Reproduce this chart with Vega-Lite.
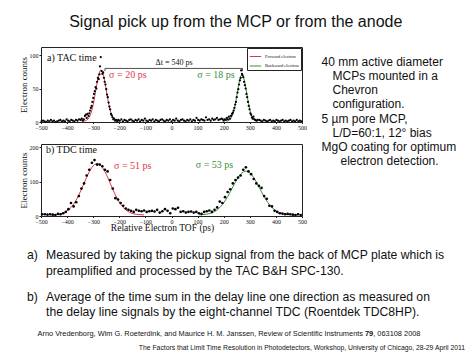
{
"$schema": "https://vega.github.io/schema/vega-lite/v6.json",
"padding": {"left": 18, "top": 13, "right": 0, "bottom": 0},
"background": "white",
"title": {"text": "Signal pick up from the MCP or from the anode", "font": "Liberation Sans", "fontSize": 16, "fontWeight": "normal", "color": "#111", "anchor": "middle", "dx": -6, "offset": 17},
"config": {
  "view": {"stroke": "#222", "strokeWidth": 1},
  "axis": {"grid": false, "domain": false, "ticks": true, "tickColor": "#222", "labelColor": "#111", "titleColor": "#111", "labelFont": "Liberation Serif", "titleFont": "Liberation Serif", "titleFontWeight": "normal"},
  "text": {"font": "Liberation Serif"}
},
"datasets": {
  "tac": [
    {"x":-498,"y":1},{"x":-492,"y":2},{"x":-486,"y":1},{"x":-480,"y":0},{"x":-474,"y":2},{"x":-468,"y":1},{"x":-462,"y":3},{"x":-456,"y":1},{"x":-450,"y":2},{"x":-444,"y":0},{"x":-438,"y":1},{"x":-432,"y":2},{"x":-426,"y":3},{"x":-420,"y":1},{"x":-414,"y":2},{"x":-408,"y":1},{"x":-402,"y":4},{"x":-396,"y":2},{"x":-390,"y":1},{"x":-384,"y":3},{"x":-378,"y":2},{"x":-372,"y":1},{"x":-366,"y":3},{"x":-360,"y":2},{"x":-354,"y":4},{"x":-348,"y":3},{"x":-344,"y":5},
    {"x":-340,"y":2},{"x":-336,"y":4},{"x":-332,"y":9},{"x":-328,"y":11},{"x":-325,"y":6},{"x":-322,"y":12},{"x":-318,"y":9},{"x":-315,"y":13},{"x":-312,"y":17},{"x":-309,"y":21},{"x":-306,"y":24},{"x":-303,"y":30},{"x":-300,"y":36},{"x":-297,"y":42},{"x":-294,"y":46},{"x":-291,"y":52},{"x":-288,"y":50},{"x":-285,"y":60},{"x":-282,"y":66},{"x":-279,"y":64},{"x":-276,"y":71},{"x":-274,"y":83},{"x":-271,"y":97},{"x":-268,"y":76},{"x":-265,"y":72},{"x":-262,"y":74},{"x":-259,"y":66},{"x":-256,"y":60},{"x":-253,"y":56},{"x":-250,"y":49},{"x":-247,"y":41},{"x":-244,"y":37},{"x":-241,"y":29},{"x":-238,"y":23},{"x":-235,"y":19},{"x":-232,"y":12},{"x":-229,"y":10},{"x":-226,"y":7},{"x":-223,"y":4},{"x":-220,"y":5},{"x":-216,"y":2},{"x":-212,"y":3},{"x":-208,"y":1},
    {"x":-204,"y":3},{"x":-198,"y":2},{"x":-192,"y":4},{"x":-186,"y":1},{"x":-180,"y":3},{"x":-174,"y":2},{"x":-168,"y":1},{"x":-162,"y":3},{"x":-156,"y":4},{"x":-150,"y":2},{"x":-144,"y":1},{"x":-138,"y":3},{"x":-132,"y":2},{"x":-126,"y":4},{"x":-120,"y":1},{"x":-114,"y":3},{"x":-108,"y":2},{"x":-102,"y":5},{"x":-96,"y":2},{"x":-90,"y":1},{"x":-84,"y":3},{"x":-78,"y":2},{"x":-72,"y":4},{"x":-66,"y":1},{"x":-60,"y":3},{"x":-54,"y":2},{"x":-48,"y":1},{"x":-42,"y":3},{"x":-36,"y":4},{"x":-30,"y":2},{"x":-24,"y":1},{"x":-18,"y":3},{"x":-12,"y":2},{"x":-6,"y":4},{"x":0,"y":1},{"x":6,"y":3},{"x":12,"y":2},{"x":18,"y":5},{"x":24,"y":2},{"x":30,"y":1},{"x":36,"y":3},{"x":42,"y":4},{"x":48,"y":2},{"x":54,"y":1},{"x":60,"y":3},{"x":66,"y":2},{"x":72,"y":4},{"x":78,"y":1},{"x":84,"y":3},{"x":90,"y":2},{"x":96,"y":6},{"x":102,"y":3},{"x":108,"y":2},{"x":114,"y":4},{"x":120,"y":3},{"x":126,"y":2},{"x":132,"y":7},{"x":138,"y":3},{"x":144,"y":4},{"x":150,"y":2},{"x":156,"y":5},{"x":162,"y":3},{"x":168,"y":4},{"x":174,"y":6},{"x":180,"y":3},{"x":186,"y":4},{"x":192,"y":5},{"x":196,"y":4},
    {"x":200,"y":2},{"x":204,"y":4},{"x":208,"y":3},{"x":212,"y":6},{"x":216,"y":4},{"x":220,"y":8},{"x":224,"y":5},{"x":228,"y":9},{"x":232,"y":12},{"x":235,"y":14},{"x":238,"y":17},{"x":241,"y":21},{"x":244,"y":26},{"x":247,"y":30},{"x":250,"y":37},{"x":253,"y":44},{"x":256,"y":49},{"x":259,"y":56},{"x":262,"y":62},{"x":265,"y":66},{"x":267,"y":77},{"x":270,"y":72},{"x":272,"y":70},{"x":275,"y":67},{"x":278,"y":60},{"x":281,"y":55},{"x":284,"y":50},{"x":287,"y":42},{"x":290,"y":37},{"x":293,"y":30},{"x":296,"y":24},{"x":299,"y":19},{"x":302,"y":13},{"x":305,"y":11},{"x":308,"y":7},{"x":311,"y":5},{"x":314,"y":8},{"x":317,"y":4},{"x":321,"y":3},{"x":325,"y":2},{"x":330,"y":3},
    {"x":336,"y":3},{"x":342,"y":2},{"x":348,"y":1},{"x":354,"y":3},{"x":360,"y":2},{"x":366,"y":1},{"x":372,"y":2},{"x":378,"y":3},{"x":384,"y":1},{"x":390,"y":2},{"x":396,"y":1},{"x":402,"y":3},{"x":408,"y":2},{"x":414,"y":1},{"x":420,"y":2},{"x":426,"y":3},{"x":432,"y":1},{"x":438,"y":2},{"x":444,"y":1},{"x":450,"y":2},{"x":456,"y":3},{"x":462,"y":1},{"x":468,"y":2},{"x":474,"y":1},{"x":480,"y":3},{"x":486,"y":1},{"x":492,"y":2},{"x":498,"y":1}
  ],
  "tacfit": [
    {"x":-340,"y":1.2,"series":"Forward electron"},{"x":-330,"y":1.9,"series":"Forward electron"},{"x":-325,"y":2.8,"series":"Forward electron"},{"x":-320,"y":4.4,"series":"Forward electron"},{"x":-315,"y":7.1,"series":"Forward electron"},{"x":-310,"y":11.4,"series":"Forward electron"},{"x":-305,"y":17.7,"series":"Forward electron"},{"x":-300,"y":26.0,"series":"Forward electron"},{"x":-295,"y":36.3,"series":"Forward electron"},{"x":-290,"y":47.7,"series":"Forward electron"},{"x":-285,"y":59.1,"series":"Forward electron"},{"x":-280,"y":69.0,"series":"Forward electron"},{"x":-275,"y":75.6,"series":"Forward electron"},{"x":-270,"y":78,"series":"Forward electron"},{"x":-265,"y":75.6,"series":"Forward electron"},{"x":-260,"y":69.0,"series":"Forward electron"},{"x":-255,"y":59.1,"series":"Forward electron"},{"x":-250,"y":47.7,"series":"Forward electron"},{"x":-245,"y":36.3,"series":"Forward electron"},{"x":-240,"y":26.0,"series":"Forward electron"},{"x":-235,"y":17.7,"series":"Forward electron"},{"x":-230,"y":11.4,"series":"Forward electron"},{"x":-225,"y":7.1,"series":"Forward electron"},{"x":-220,"y":4.4,"series":"Forward electron"},{"x":-215,"y":2.8,"series":"Forward electron"},{"x":-210,"y":1.9,"series":"Forward electron"},{"x":-200,"y":1.2,"series":"Forward electron"},
    {"x":210,"y":1.3,"series":"Backward electron"},{"x":215,"y":1.7,"series":"Backward electron"},{"x":220,"y":2.5,"series":"Backward electron"},{"x":225,"y":4.1,"series":"Backward electron"},{"x":230,"y":6.9,"series":"Backward electron"},{"x":235,"y":11.6,"series":"Backward electron"},{"x":240,"y":18.4,"series":"Backward electron"},{"x":245,"y":27.7,"series":"Backward electron"},{"x":250,"y":38.7,"series":"Backward electron"},{"x":255,"y":50.5,"series":"Backward electron"},{"x":260,"y":61.0,"series":"Backward electron"},{"x":265,"y":68.3,"series":"Backward electron"},{"x":270,"y":71,"series":"Backward electron"},{"x":275,"y":68.3,"series":"Backward electron"},{"x":280,"y":61.0,"series":"Backward electron"},{"x":285,"y":50.5,"series":"Backward electron"},{"x":290,"y":38.7,"series":"Backward electron"},{"x":295,"y":27.7,"series":"Backward electron"},{"x":300,"y":18.4,"series":"Backward electron"},{"x":305,"y":11.6,"series":"Backward electron"},{"x":310,"y":6.9,"series":"Backward electron"},{"x":315,"y":4.1,"series":"Backward electron"},{"x":320,"y":2.5,"series":"Backward electron"},{"x":325,"y":1.7,"series":"Backward electron"},{"x":330,"y":1.3,"series":"Backward electron"}
  ],
  "tdc": [
    {"x":-495,"y":5},{"x":-485,"y":5},{"x":-475,"y":4},{"x":-465,"y":5},{"x":-455,"y":4},{"x":-445,"y":3},{"x":-435,"y":6},{"x":-425,"y":5},{"x":-415,"y":8},{"x":-405,"y":12},{"x":-395,"y":20},{"x":-385,"y":38},{"x":-375,"y":28},{"x":-365,"y":40},{"x":-355,"y":58},{"x":-345,"y":80},{"x":-335,"y":95},{"x":-325,"y":118},{"x":-315,"y":135},{"x":-305,"y":155},{"x":-295,"y":163},{"x":-285,"y":150},{"x":-275,"y":150},{"x":-265,"y":145},{"x":-255,"y":135},{"x":-245,"y":130},{"x":-235,"y":105},{"x":-225,"y":80},{"x":-215,"y":52},{"x":-205,"y":48},{"x":-195,"y":38},{"x":-185,"y":30},{"x":-175,"y":22},{"x":-165,"y":18},{"x":-155,"y":15},{"x":-145,"y":12},{"x":-135,"y":18},{"x":-125,"y":15},{"x":-115,"y":14},{"x":-105,"y":16},{"x":-95,"y":12},{"x":-85,"y":14},{"x":-75,"y":15},{"x":-65,"y":13},{"x":-55,"y":18},{"x":-45,"y":10},{"x":-35,"y":14},{"x":-25,"y":20},{"x":-15,"y":15},{"x":-5,"y":8},{"x":5,"y":22},{"x":15,"y":20},{"x":25,"y":24},{"x":35,"y":12},{"x":45,"y":14},{"x":55,"y":10},{"x":65,"y":12},{"x":75,"y":13},{"x":85,"y":10},{"x":95,"y":12},{"x":105,"y":8},{"x":115,"y":6},{"x":125,"y":12},{"x":135,"y":14},{"x":145,"y":16},{"x":155,"y":12},{"x":165,"y":18},{"x":175,"y":25},{"x":185,"y":42},{"x":195,"y":38},{"x":205,"y":55},{"x":215,"y":70},{"x":225,"y":78},{"x":235,"y":95},{"x":245,"y":105},{"x":255,"y":112},{"x":265,"y":118},{"x":275,"y":135},{"x":285,"y":142},{"x":295,"y":130},{"x":305,"y":122},{"x":315,"y":108},{"x":325,"y":95},{"x":335,"y":88},{"x":345,"y":82},{"x":355,"y":58},{"x":365,"y":50},{"x":375,"y":30},{"x":385,"y":28},{"x":395,"y":15},{"x":405,"y":12},{"x":415,"y":8},{"x":425,"y":7},{"x":435,"y":5},{"x":445,"y":6},{"x":455,"y":5},{"x":465,"y":4},{"x":475,"y":3},{"x":485,"y":5},{"x":495,"y":3}
  ],
  "tdcfit": [
    {"x":-465,"y":3.3,"series":"Forward electron"},{"x":-445,"y":4.1,"series":"Forward electron"},{"x":-435,"y":5.0,"series":"Forward electron"},{"x":-425,"y":6.5,"series":"Forward electron"},{"x":-415,"y":8.8,"series":"Forward electron"},{"x":-405,"y":12.4,"series":"Forward electron"},{"x":-395,"y":17.7,"series":"Forward electron"},{"x":-385,"y":24.9,"series":"Forward electron"},{"x":-375,"y":34.7,"series":"Forward electron"},{"x":-365,"y":46.8,"series":"Forward electron"},{"x":-355,"y":61.5,"series":"Forward electron"},{"x":-345,"y":78.1,"series":"Forward electron"},{"x":-335,"y":95.7,"series":"Forward electron"},{"x":-325,"y":113.3,"series":"Forward electron"},{"x":-315,"y":129.2,"series":"Forward electron"},{"x":-305,"y":141.9,"series":"Forward electron"},{"x":-295,"y":150.2,"series":"Forward electron"},{"x":-285,"y":153,"series":"Forward electron"},{"x":-275,"y":150.2,"series":"Forward electron"},{"x":-265,"y":141.9,"series":"Forward electron"},{"x":-255,"y":129.2,"series":"Forward electron"},{"x":-245,"y":113.3,"series":"Forward electron"},{"x":-235,"y":95.7,"series":"Forward electron"},{"x":-225,"y":78.1,"series":"Forward electron"},{"x":-215,"y":61.5,"series":"Forward electron"},{"x":-205,"y":46.8,"series":"Forward electron"},{"x":-195,"y":34.7,"series":"Forward electron"},{"x":-185,"y":24.9,"series":"Forward electron"},{"x":-175,"y":17.7,"series":"Forward electron"},{"x":-165,"y":12.4,"series":"Forward electron"},{"x":-155,"y":8.8,"series":"Forward electron"},{"x":-145,"y":6.5,"series":"Forward electron"},{"x":-135,"y":5.0,"series":"Forward electron"},{"x":-125,"y":4.1,"series":"Forward electron"},{"x":-105,"y":3.3,"series":"Forward electron"},
    {"x":105,"y":3.4,"series":"Backward electron"},{"x":125,"y":4.3,"series":"Backward electron"},{"x":135,"y":5.3,"series":"Backward electron"},{"x":145,"y":6.9,"series":"Backward electron"},{"x":155,"y":9.3,"series":"Backward electron"},{"x":165,"y":12.9,"series":"Backward electron"},{"x":175,"y":17.8,"series":"Backward electron"},{"x":185,"y":24.6,"series":"Backward electron"},{"x":195,"y":33.2,"series":"Backward electron"},{"x":205,"y":44.0,"series":"Backward electron"},{"x":215,"y":56.5,"series":"Backward electron"},{"x":225,"y":70.5,"series":"Backward electron"},{"x":235,"y":85.0,"series":"Backward electron"},{"x":245,"y":99.3,"series":"Backward electron"},{"x":255,"y":112.1,"series":"Backward electron"},{"x":265,"y":122.2,"series":"Backward electron"},{"x":275,"y":128.7,"series":"Backward electron"},{"x":285,"y":131,"series":"Backward electron"},{"x":295,"y":128.7,"series":"Backward electron"},{"x":305,"y":122.2,"series":"Backward electron"},{"x":315,"y":112.1,"series":"Backward electron"},{"x":325,"y":99.3,"series":"Backward electron"},{"x":335,"y":85.0,"series":"Backward electron"},{"x":345,"y":70.5,"series":"Backward electron"},{"x":355,"y":56.5,"series":"Backward electron"},{"x":365,"y":44.0,"series":"Backward electron"},{"x":375,"y":33.2,"series":"Backward electron"},{"x":385,"y":24.6,"series":"Backward electron"},{"x":395,"y":17.8,"series":"Backward electron"},{"x":405,"y":12.9,"series":"Backward electron"},{"x":415,"y":9.3,"series":"Backward electron"},{"x":425,"y":6.9,"series":"Backward electron"},{"x":435,"y":5.3,"series":"Backward electron"},{"x":445,"y":4.3,"series":"Backward electron"},{"x":465,"y":3.4,"series":"Backward electron"},{"x":485,"y":3.1,"series":"Backward electron"}
  ]
},
"vconcat": [
  {
    "hconcat": [
      {
        "vconcat": [
          {
            "width": 261, "height": 75,
            "encoding": {
              "x": {"field": "x", "type": "quantitative", "scale": {"domain": [-500, 500], "nice": false, "zero": false}, "axis": {"values": [-500,-400,-300,-200,-100,0,100,200,300,400,500], "title": null, "labelFontSize": 6, "tickSize": 1.5, "labelPadding": 0.5, "labelFlush": false, "labelOverlap": false}},
              "y": {"field": "y", "type": "quantitative", "scale": {"domain": [0, 112], "nice": false}, "axis": {"values": [0, 50, 100], "title": "Electron counts", "titleFontSize": 9, "titlePadding": 1, "labelFontSize": 6, "tickSize": 2, "labelPadding": 1}}
            },
            "layer": [
              {"data": {"name": "tacfit"}, "mark": {"type": "line", "strokeWidth": 1},
               "encoding": {"color": {"field": "series", "type": "nominal", "scale": {"domain": ["Forward electron", "Backward electron"], "range": ["#e0364a", "#3a8f3a"]},
                 "legend": {"title": null, "orient": "top-right", "offset": 1, "padding": 2, "strokeColor": "#222", "fillColor": "white", "labelFont": "Liberation Serif", "labelFontSize": 4.5, "labelColor": "#111", "symbolType": "stroke", "symbolSize": 130, "symbolStrokeWidth": 1, "rowPadding": 0.5, "labelOffset": 3, "labelLimit": 100}}}},
              {"data": {"name": "tac"}, "mark": {"type": "circle", "size": 5, "color": "black", "opacity": 1}},
              {"data": {"values": [{"x": -255, "y": 76, "k": 0}, {"x": -255, "y": 80, "k": 1}, {"x": 272, "y": 80, "k": 2}, {"x": 272, "y": 76, "k": 3}]},
               "mark": {"type": "line", "color": "#222", "strokeWidth": 0.8}, "encoding": {"order": {"field": "k", "type": "quantitative"}}},
              {"data": {"values": [{"x": -477, "y": 96, "label": "a) TAC time"}]}, "mark": {"type": "text", "fontSize": 10, "align": "left", "baseline": "middle", "color": "#111"}, "encoding": {"text": {"field": "label"}}},
              {"data": {"values": [{"x": 10, "y": 88, "label": "Δt = 540 ps"}]}, "mark": {"type": "text", "fontSize": 8, "align": "center", "baseline": "middle", "color": "#111"}, "encoding": {"text": {"field": "label"}}},
              {"data": {"values": [{"x": -239, "y": 70, "label": "σ = 20 ps"}]}, "mark": {"type": "text", "fontSize": 10, "align": "left", "baseline": "middle", "color": "#e0364a"}, "encoding": {"text": {"field": "label"}}},
              {"data": {"values": [{"x": 99, "y": 70, "label": "σ = 18 ps"}]}, "mark": {"type": "text", "fontSize": 10, "align": "left", "baseline": "middle", "color": "#3a8f3a"}, "encoding": {"text": {"field": "label"}}}
            ]
          },
          {
            "width": 261, "height": 72,
            "encoding": {
              "x": {"field": "x", "type": "quantitative", "scale": {"domain": [-500, 500], "nice": false, "zero": false}, "axis": {"values": [-500,-400,-300,-200,-100,0,100,200,300,400,500], "title": "Relative Electron TOF (ps)", "titleFontSize": 9.5, "titlePadding": -1.5, "titleX": 121, "labelFontSize": 6, "tickSize": 1.5, "labelPadding": 0.5, "labelFlush": false, "labelOverlap": false}},
              "y": {"field": "y", "type": "quantitative", "scale": {"domain": [0, 210], "nice": false}, "axis": {"values": [0, 100, 200], "title": "Electron counts", "titleFontSize": 9, "titlePadding": 1, "labelFontSize": 6, "tickSize": 2, "labelPadding": 1}}
            },
            "layer": [
              {"data": {"name": "tdcfit"}, "mark": {"type": "line", "strokeWidth": 1},
               "encoding": {"color": {"field": "series", "type": "nominal", "scale": {"domain": ["Forward electron", "Backward electron"], "range": ["#e0364a", "#3a8f3a"]}, "legend": null}}},
              {"data": {"name": "tdc"}, "mark": {"type": "circle", "size": 7, "color": "black", "opacity": 1}},
              {"data": {"values": [{"x": -481, "y": 192, "label": "b) TDC time"}]}, "mark": {"type": "text", "fontSize": 10, "align": "left", "baseline": "middle", "color": "#111"}, "encoding": {"text": {"field": "label"}}},
              {"data": {"values": [{"x": -220, "y": 146, "label": "σ = 51 ps"}]}, "mark": {"type": "text", "fontSize": 10, "align": "left", "baseline": "middle", "color": "#e0364a"}, "encoding": {"text": {"field": "label"}}},
              {"data": {"values": [{"x": 93, "y": 148, "label": "σ = 53 ps"}]}, "mark": {"type": "text", "fontSize": 10, "align": "left", "baseline": "middle", "color": "#3a8f3a"}, "encoding": {"text": {"field": "label"}}}
            ]
          }
        ],
        "spacing": 12,
        "resolve": {"scale": {"x": "independent", "y": "independent", "color": "independent"}, "legend": {"color": "independent"}}
      },
      {
        "width": 140, "height": 120,
        "view": {"stroke": null},
        "data": {"values": [
          {"line": 0, "col": 0, "text": "40 mm active diameter"},
          {"line": 1, "col": 1, "text": "MCPs mounted in a"},
          {"line": 2, "col": 1, "text": "Chevron"},
          {"line": 3, "col": 1, "text": "configuration."},
          {"line": 4, "col": 0, "text": "5 µm pore MCP,"},
          {"line": 5, "col": 1, "text": "L/D=60:1, 12° bias"},
          {"line": 6, "col": 0, "text": "MgO coating for optimum"},
          {"line": 7, "col": 2, "text": "electron detection."}
        ]},
        "mark": {"type": "text", "font": "Liberation Sans", "fontSize": 12, "align": "left", "baseline": "middle", "color": "#111"},
        "encoding": {
          "x": {"field": "col", "type": "quantitative", "scale": {"domain": [0, 1, 2], "range": [0, 11, 19]}, "axis": null},
          "y": {"field": "line", "type": "quantitative", "scale": {"domain": [0, 7], "range": [15, 114]}, "axis": null},
          "text": {"field": "text"}
        }
      }
    ],
    "spacing": 14.5
  },
  {
    "width": 420, "height": 112,
    "view": {"stroke": null},
    "encoding": {
      "x": {"field": "col", "type": "quantitative", "scale": {"domain": [0, 1, 2, 3, 4, 5], "range": [-14, 5, 322, 324, 332.2, 424]}, "axis": null},
      "y": {"field": "line", "type": "quantitative", "scale": {"domain": [0, 1, 2, 3, 4, 5], "range": [17.5, 33.5, 59.5, 74.5, 96.5, 110.5]}, "axis": null},
      "text": {"field": "text"}
    },
    "layer": [
      {"data": {"values": [
        {"line": 0, "col": 0, "text": "a)"},
        {"line": 0, "col": 1, "text": "Measured by taking the pickup signal from the back of MCP plate which is"},
        {"line": 1, "col": 1, "text": "preamplified and processed by the TAC B&H SPC-130."},
        {"line": 2, "col": 0, "text": "b)"},
        {"line": 2, "col": 1, "text": "Average of the time sum in the delay line one direction as measured on"},
        {"line": 3, "col": 1, "text": "the delay line signals by the eight-channel TDC (Roentdek TDC8HP)."}
      ]}, "mark": {"type": "text", "font": "Liberation Sans", "fontSize": 12.2, "align": "left", "baseline": "middle", "color": "#111"}},
      {"data": {"values": [{"line": 4, "col": 2, "text": "Arno Vredenborg, Wim G. Roeterdink, and Maurice H. M. Janssen, Review of Scientific Instruments"}]},
       "mark": {"type": "text", "font": "Liberation Sans", "fontSize": 7.4, "align": "right", "baseline": "middle", "color": "#111"}},
      {"data": {"values": [{"line": 4, "col": 3, "text": "79"}]},
       "mark": {"type": "text", "font": "Liberation Sans", "fontSize": 7.4, "fontWeight": "bold", "align": "left", "baseline": "middle", "color": "#111"}},
      {"data": {"values": [{"line": 4, "col": 4, "text": ", 063108 2008"}]},
       "mark": {"type": "text", "font": "Liberation Sans", "fontSize": 7.4, "align": "left", "baseline": "middle", "color": "#111"}},
      {"data": {"values": [{"line": 5, "col": 5, "text": "The Factors that Limit Time Resolution in Photodetectors, Workshop, University of Chicago, 28-29 April 2011"}]},
       "mark": {"type": "text", "font": "Liberation Sans", "fontSize": 6.8, "align": "right", "baseline": "middle", "color": "#111"}}
    ]
  }
],
"spacing": 4
}
